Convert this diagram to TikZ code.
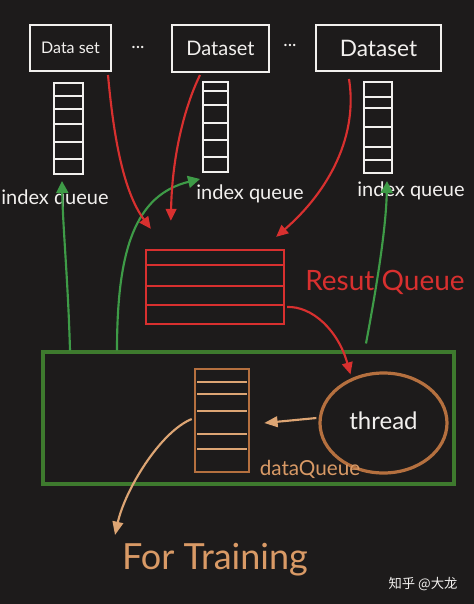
\documentclass[tikz,border=0pt]{standalone}
\usepackage{fontspec}
\setmainfont{Lato}
\newfontfamily\cjk{Noto Sans CJK SC}
\usetikzlibrary{arrows.meta,shapes.geometric,calc}
\definecolor{bg}{HTML}{1D1B1B}
\definecolor{chalk}{HTML}{F2F0EE}
\definecolor{redc}{HTML}{D8302F}
\definecolor{garr}{HTML}{3E9B47}
\definecolor{gboxc}{HTML}{3E7A2E}
\definecolor{brownc}{HTML}{B5703F}
\definecolor{lbrown}{HTML}{DDA574}
\definecolor{orangetext}{HTML}{D99A66}
\begin{document}
\begin{tikzpicture}[x=0.75pt,y=-0.75pt,
  wbox/.style={draw=chalk, line width=1.6pt, inner sep=0pt, outer sep=0pt, text=chalk, font=\fontsize{12}{14}\selectfont},
  qcol/.style={draw=chalk, line width=1.4pt, inner sep=0pt, outer sep=0pt},
  qline/.style={draw=chalk, line width=1.3pt},
  rline/.style={draw=redc, line width=1.6pt},
  bline/.style={draw=lbrown, line width=1.6pt},
  rarrow/.style={draw=redc, line width=1.6pt, -{Triangle[length=9pt,width=8pt]}},
  garrow/.style={draw=garr, line width=1.6pt, -{Triangle[length=9pt,width=9pt]}},
  barrow/.style={draw=lbrown, line width=1.6pt, -{Triangle[length=10pt,width=8pt]}},
  wlabel/.style={text=chalk, font=\fontsize{15}{17}\selectfont, inner sep=0pt},
]
\fill[bg] (0,0) rectangle (474,604);
\useasboundingbox (0,0) rectangle (474,604);

% dataset boxes
\node[wbox, minimum width=60.75pt, minimum height=34.5pt] (ds1) at (70.5,48) {Data set};
\node[wbox, minimum width=72.75pt, minimum height=35.25pt] (ds2) at (220.5,48.5) {\fontsize{15}{17}\selectfont Dataset};
\node[wbox, minimum width=93.75pt, minimum height=34.5pt] (ds3) at (378.5,48) {\fontsize{17}{19}\selectfont Dataset};
\node[text=chalk, font=\fontsize{14}{16}\selectfont, inner sep=0pt] (dots1) at (138,47) {...};
\node[text=chalk, font=\fontsize{14}{16}\selectfont, inner sep=0pt] (dots2) at (290,45) {...};

% index queues
\node[qcol, minimum width=21.75pt, minimum height=68.25pt] (iq1) at (68.5,128.5) {};
\node[qcol, minimum width=18.75pt, minimum height=67.5pt] (iq2) at (215.5,127) {};
\node[qcol, minimum width=21pt, minimum height=68.25pt] (iq3) at (378,127.5) {};
\foreach \y in {96,109,124,142,159} \draw[qline] (54,\y) -- (83,\y);
\foreach \y in {91,105,123,140,157} \draw[qline] (203,\y) -- (228,\y);
\foreach \y in {97,108,127,147,160} \draw[qline] (364,\y) -- (392,\y);

\node[wlabel] (lab1) at (55,199) {index queue};
\node[wlabel] (lab2) at (250,194) {index queue};
\node[wlabel] (lab3) at (411,191) {index queue};

% result queue
\node[draw=redc, line width=1.7pt, inner sep=0pt, minimum width=103.5pt, minimum height=55.5pt] (rq) at (215,287) {};
\foreach \y in {265,286,305} \draw[rline] (146,\y) -- (284,\y);
\node[text=redc, font=\fontsize{21}{23}\selectfont, anchor=west, inner sep=0pt] (rqlab) at (305,282) {Resut Queue};

% green box
\node[draw=gboxc, line width=2.3pt, inner sep=0pt, minimum width=308.25pt, minimum height=99pt] (gb) at (248.5,418) {};

% thread and data queue
\node[draw=brownc, line width=2.4pt, ellipse, inner sep=0pt, minimum width=95.25pt, minimum height=75pt, text=chalk, font=\fontsize{18}{20}\selectfont] (th) at (383.5,423) {\raisebox{3pt}{thread}\hspace{8pt}};
\node[draw=brownc, line width=1.9pt, inner sep=0pt, minimum width=40.5pt, minimum height=77.25pt] (dq) at (222,420.5) {};
\foreach \y in {382,394,411,434,449} \draw[bline] (197,\y) -- (247,\y);
\node[text=orangetext, font=\fontsize{15.5}{17}\selectfont, inner sep=0pt] (dqlab) at (310,469) {dataQueue};

% texts
\node[text=orangetext, font=\fontsize{27}{30}\selectfont, inner sep=0pt] (train) at (215,560) {For Training};
\node[text=chalk, font=\cjk\fontsize{10}{12}\selectfont, inner sep=0pt] (wm) at (423,584) {知乎 @大龙};

% green arrows (index queues)
\draw[garrow] (gb.north -| 70,0) .. controls (68,280) and (63,230) .. ($(iq1.south)+(-6.5,7)$);
\draw[garrow] (gb.north -| 117,0) .. controls (117,250) and (135,195) .. ($(iq2.south)+(-15.5,7)$);
\draw[garrow] ($(gb.north -| 366,0)+(0,-7)$) .. controls (376,290) and (386,230) .. ($(iq3.south)+(9,8)$);

% red arrows (datasets to result queue)
\draw[rarrow] ($(ds1.south east)+(-3,4)$) .. controls (113,130) and (122,190) .. ($(rq.north west)+(6,-20)$);
\draw[rarrow] ($(ds2.south)+(-20.5,3)$) .. controls (183,110) and (172,160) .. ($(rq.north west)+(26,-28)$);
\draw[rarrow] ($(ds3.south)+(-29.5,8)$) .. controls (358,135) and (330,190) .. ($(rq.north east)+(-9,-12)$);
\draw[rarrow] ($(rq.east)+(2,20)$) .. controls (312,306) and (338,330) .. ($(th.north)+(-33,3)$);

% brown arrows
\draw[barrow] ($(th.west)+(-2,-5)$) -- ($(dq.east)+(14,2.5)$);
\draw[barrow] ($(dq.west)+(-2,-1.5)$) .. controls (160,432) and (125,490) .. (115,535);
\end{tikzpicture}
\end{document}
